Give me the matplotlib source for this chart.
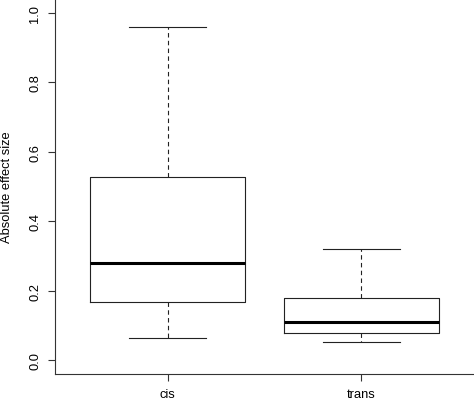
import matplotlib
matplotlib.use('Agg')
import matplotlib.pyplot as plt

plt.rcParams['font.family'] = ['Liberation Sans', 'DejaVu Sans']

groups = ['cis', 'trans']
whislo = [0.063, 0.052]
q1 = [0.167, 0.078]
med = [0.280, 0.110]
q3 = [0.528, 0.180]
whishi = [0.960, 0.320]

stats = [{'label': g, 'whislo': lo, 'q1': a, 'med': m, 'q3': b, 'whishi': hi, 'fliers': []}
         for g, lo, a, m, b, hi in zip(groups, whislo, q1, med, q3, whishi)]

fig = plt.figure(figsize=(4.74, 4.02), dpi=100)
ax = fig.add_axes([55 / 474, 27 / 402, 419 / 474, 375 / 402])

line = dict(color='#222222', linewidth=0.8)
ax.bxp(stats, positions=[1, 2], widths=0.8, showfliers=False,
       boxprops=line,
       whiskerprops=dict(color='#222222', linewidth=0.8, linestyle=(0, (4, 3))),
       capprops=line, capwidths=0.4,
       medianprops=dict(color='black', linewidth=2.2))

ax.set_xlim(0.42, 2.58)
ax.set_ylim(-0.04, 1.04)
ax.set_yticks([0.0, 0.2, 0.4, 0.6, 0.8, 1.0])
ax.set_yticklabels(['0.0', '0.2', '0.4', '0.6', '0.8', '1.0'], rotation=90, va='center')
ax.set_xticks([1, 2])
ax.set_xticklabels(groups)
ax.tick_params(labelsize=9.3, length=5, width=0.8, color='#333333', pad=5)
ax.set_ylabel('Absolute effect size', fontsize=9.3)
ax.yaxis.set_label_coords(-0.1, 0.5)

for s in ['top', 'right']:
    ax.spines[s].set_visible(False)
for s in ['left', 'bottom']:
    ax.spines[s].set_color('#333333')
    ax.spines[s].set_linewidth(0.8)

fig.savefig('out.png', dpi=100)
